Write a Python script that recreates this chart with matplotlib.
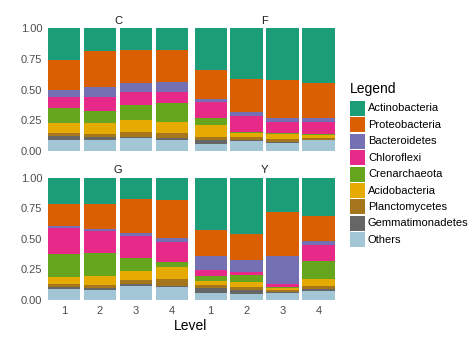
import numpy as np
import matplotlib
matplotlib.use("Agg")
import matplotlib.pyplot as plt
from matplotlib.patches import Rectangle

plt.rcParams['font.family'] = ['Liberation Sans', 'DejaVu Sans']

sites = ["C", "F", "G", "Y"]
levels = ["1", "2", "3", "4"]
taxa = ["Actinobacteria", "Proteobacteria", "Bacteroidetes", "Chloroflexi",
        "Crenarchaeota", "Acidobacteria", "Planctomycetes", "Gemmatimonadetes", "Others"]
colors = ["#1B9E77", "#D95F02", "#7570B3", "#E7298A", "#66A61E",
          "#E6AB02", "#A6761D", "#666666", "#A3C6D6"]

# values per taxon: C1..C4, F1..F4, G1..G4, Y1..Y4
actinobacteria   = [0.258, 0.184, 0.179, 0.179, 0.341, 0.415, 0.423, 0.450, 0.215, 0.215, 0.177, 0.183, 0.428, 0.460, 0.278, 0.311]
proteobacteria   = [0.246, 0.293, 0.271, 0.263, 0.236, 0.268, 0.306, 0.284, 0.180, 0.202, 0.273, 0.307, 0.212, 0.213, 0.362, 0.207]
bacteroidetes    = [0.054, 0.087, 0.068, 0.076, 0.027, 0.032, 0.033, 0.033, 0.019, 0.016, 0.027, 0.033, 0.115, 0.095, 0.232, 0.032]
chloroflexi      = [0.095, 0.108, 0.108, 0.094, 0.130, 0.128, 0.094, 0.095, 0.213, 0.180, 0.177, 0.164, 0.046, 0.025, 0.024, 0.128]
crenarchaeota    = [0.122, 0.103, 0.122, 0.150, 0.057, 0.013, 0.006, 0.005, 0.188, 0.191, 0.109, 0.046, 0.041, 0.060, 0.006, 0.153]
acidobacteria    = [0.081, 0.089, 0.100, 0.094, 0.092, 0.033, 0.038, 0.025, 0.057, 0.073, 0.074, 0.098, 0.038, 0.043, 0.019, 0.055]
planctomycetes   = [0.019, 0.019, 0.035, 0.041, 0.028, 0.022, 0.027, 0.016, 0.019, 0.022, 0.032, 0.052, 0.019, 0.022, 0.016, 0.027]
gemmatimonadetes = [0.036, 0.028, 0.009, 0.014, 0.035, 0.005, 0.005, 0.003, 0.019, 0.017, 0.017, 0.008, 0.047, 0.030, 0.009, 0.011]
others           = [0.089, 0.089, 0.108, 0.089, 0.054, 0.084, 0.068, 0.089, 0.090, 0.084, 0.114, 0.109, 0.054, 0.052, 0.054, 0.076]

series = [actinobacteria, proteobacteria, bacteroidetes, chloroflexi, crenarchaeota,
          acidobacteria, planctomycetes, gemmatimonadetes, others]

W, H = 474, 338
fig = plt.figure(figsize=(W / 100, H / 100), dpi=100)
fig.patch.set_facecolor("white")

# panel boxes in pixels (left, top, right, bottom)
px_boxes = {
    "C": (48, 28, 188, 151),
    "F": (194.5, 28, 334.5, 151),
    "G": (48, 177.5, 188, 300),
    "Y": (194.5, 177.5, 334.5, 300),
}
tick_col = "#4D4D4D"
x = np.arange(1, 5)
for si, site in enumerate(sites):
    l, t, r, b = px_boxes[site]
    ax = fig.add_axes([l / W, 1 - b / H, (r - l) / W, (b - t) / H])
    bottom = np.zeros(4)
    # stack from bottom (Others) to top (Actinobacteria)
    for name, vals, col in reversed(list(zip(taxa, series, colors))):
        v = np.array(vals[si * 4:(si + 1) * 4])
        ax.bar(x, v, width=0.9, bottom=bottom, color=col, linewidth=0)
        bottom += v
    ax.set_xlim(0.55, 4.45)
    ax.set_ylim(0, 1)
    for s in ax.spines.values():
        s.set_visible(False)
    ax.tick_params(length=0, labelsize=8, colors=tick_col, pad=4)
    ax.set_xticks(x)
    ax.set_yticks([0, 0.25, 0.5, 0.75, 1.0])
    if site in ("C", "G"):
        ax.set_yticklabels(["0.00", "0.25", "0.50", "0.75", "1.00"])
    else:
        ax.set_yticklabels([])
    if site in ("G", "Y"):
        ax.set_xticklabels(levels)
    else:
        ax.set_xticklabels([])
    ax.set_title(site, fontsize=8, color="#1A1A1A", pad=3)

fig.text(191 / W, 1 - 326 / H, "Level", ha="center", va="center", fontsize=10, color="black")

# legend
fig.text(350 / W, 1 - 89 / H, "Legend", ha="left", va="center", fontsize=10, color="black")
y0 = 108.5
step = 16.4
for i, (name, col) in enumerate(zip(taxa, colors)):
    yc = y0 + i * step
    fig.add_artist(Rectangle((350 / W, 1 - (yc + 7.5) / H), 15 / W, 15 / H,
                             transform=fig.transFigure, facecolor=col, edgecolor="none"))
    fig.text(368 / W, 1 - yc / H, name, ha="left", va="center", fontsize=8, color="black")

fig.savefig("out.png", dpi=100)
